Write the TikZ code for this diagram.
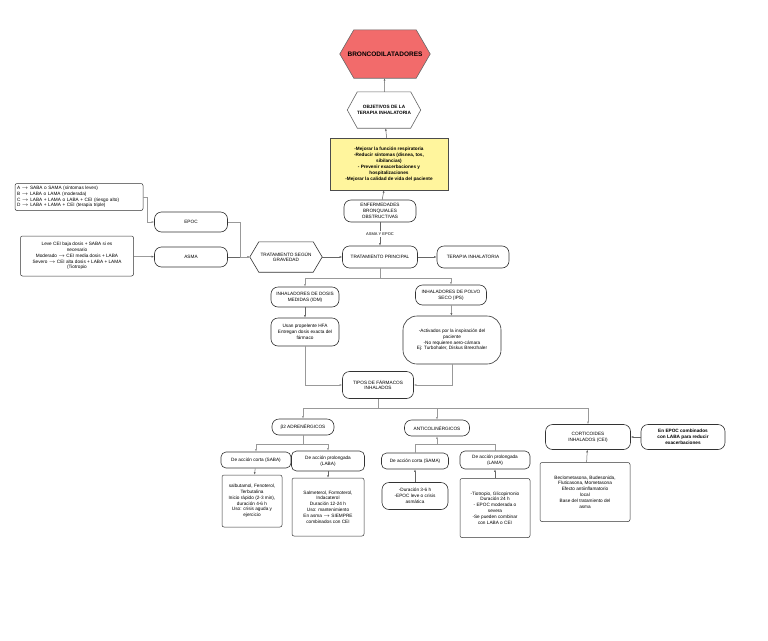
\documentclass[tikz,border=0pt]{standalone}
\usepackage{fontspec}
\setmainfont{Liberation Sans}
\usetikzlibrary{shapes.geometric,arrows.meta}
\definecolor{redhex}{RGB}{242,107,107}
\definecolor{yelbox}{RGB}{255,245,157}
\begin{document}
\begin{tikzpicture}[x=1pt,y=-1pt,
 every node/.style={font=\fontsize{4.7}{5.8}\selectfont,align=center,inner sep=1.5pt},
 rbox/.style={draw=black!80,rounded corners=7pt,line width=0.6pt,fill=white},
 sbox/.style={draw=black!80,rounded corners=2pt,line width=0.5pt,fill=white},
 arr/.style={-{Latex[length=2.5pt,width=2pt]},draw=black!60,line width=0.5pt},
 ln/.style={draw=black!40,line width=0.5pt},
 hx/.style={draw=black!60,line width=0.6pt}]
\useasboundingbox (0,0) rectangle (768,640);
\fill[white] (0,0) rectangle (768,640);
% hexagons
\node[minimum width=90pt,minimum height=48pt,inner sep=0pt] (bron) at (385,54) {};
\draw[hx,fill=redhex] (bron.west) -- ([xshift=14pt]bron.north west) -- ([xshift=-14pt]bron.north east) -- (bron.east) -- ([xshift=-14pt]bron.south east) -- ([xshift=14pt]bron.south west) -- cycle;
\node[font=\fontsize{6.5}{7}\selectfont\bfseries] at (385,54) {BRONCODILATADORES};
\node[minimum width=73pt,minimum height=36pt,inner sep=0pt] (obj) at (384,110) {};
\draw[hx,fill=white] (obj.west) -- ([xshift=10pt]obj.north west) -- ([xshift=-10pt]obj.north east) -- (obj.east) -- ([xshift=-10pt]obj.south east) -- ([xshift=10pt]obj.south west) -- cycle;
\node[font=\fontsize{4.7}{5.8}\selectfont\bfseries] at (384,110) {OBJETIVOS DE LA\\TERAPIA INHALATORIA};
\node[minimum width=72pt,minimum height=30pt,inner sep=0pt] (tsg) at (286,257) {};
\draw[hx,draw=black!80,fill=white] (tsg.west) -- ([xshift=9pt]tsg.north west) -- ([xshift=-9pt]tsg.north east) -- (tsg.east) -- ([xshift=-9pt]tsg.south east) -- ([xshift=9pt]tsg.south west) -- cycle;
\node at (286,257) {TRATAMIENTO SEGÚN\\GRAVEDAD};
% boxes
\node[draw=black!70,fill=yelbox,minimum width=118pt,minimum height=52pt,font=\fontsize{4.7}{6}\selectfont\bfseries] (yel) at (389,164)
 {-Mejorar la función respiratoria\\-Reducir síntomas (disnea, tos,\\sibilancias)\\- Prevenir exacerbaciones y\\hospitalizaciones\\-Mejorar la calidad de vida del paciente};
\node[rbox,minimum width=72pt,minimum height=22pt] (enf) at (380,211) {ENFERMEDADES\\BRONQUIALES\\OBSTRUCTIVAS};
\node[rbox,minimum width=75pt,minimum height=22pt] (tp) at (380,257) {TRATAMIENTO PRINCIPAL};
\node[rbox,minimum width=72pt,minimum height=22pt] (ti) at (473,257) {TERAPIA INHALATORIA};
\node[rbox,minimum width=73pt,minimum height=20pt] (epoc) at (191,222) {EPOC};
\node[rbox,minimum width=73pt,minimum height=20pt] (asma) at (191,257) {ASMA};
\node[sbox,minimum width=128pt,minimum height=27pt,align=left,text width=124pt] (te) at (79,197)
 {A $\rightarrow$ SABA o SAMA (síntomas leves)\\B $\rightarrow$ LABA o LAMA (moderada)\\C $\rightarrow$ LABA + LAMA o LABA + CEI (riesgo alto)\\D $\rightarrow$ LABA + LAMA + CEI (terapia triple)};
\node[sbox,minimum width=113pt,minimum height=40pt] (ta) at (77,256)
 {Leve CEI baja dosis + SABA si es\\necesario\\Moderado $\rightarrow$ CEI media dosis + LABA\\Severo $\rightarrow$ CEI alta dosis + LABA + LAMA\\(Tiotropio};
\node[rbox,minimum width=68pt,minimum height=20pt] (idm) at (305,297) {INHALADORES DE DOSIS\\MEDIDAS (IDM)};
\node[rbox,minimum width=68pt,minimum height=28pt] (usan) at (305,332) {Usan propelente HFA\\Entregan dosis exacta del\\fármaco};
\node[rbox,minimum width=71pt,minimum height=20pt] (ips) at (451,295) {INHALADORES DE POLVO\\SECO (IPS)};
\node[rbox,rounded corners=14pt,minimum width=98pt,minimum height=48pt] (act) at (452,340) {-Activados por la inspiración del\\paciente\\-No requieren aero-cámara\\Ej: Turbohaler, Diskus Breezhaler};
\node[rbox,minimum width=71pt,minimum height=27pt] (tipos) at (378,385) {TIPOS DE FÁRMACOS\\INHALADOS};
\node[rbox,minimum width=62pt,minimum height=16pt] (b2) at (303,427) {β2 ADRENÉRGICOS};
\node[rbox,minimum width=65pt,minimum height=16pt] (ac) at (437,428) {ANTICOLINÉRGICOS};
\node[rbox,minimum width=85pt,minimum height=25pt] (cei) at (588,437) {CORTICOIDES\\INHALADOS (CEI)};
\node[rbox,minimum width=84pt,minimum height=25pt,font=\fontsize{4.7}{5.8}\selectfont\bfseries] (ec) at (683,437) {En EPOC combinados\\con LABA para reducir\\exacerbaciones};
\node[rbox,rounded corners=5pt,minimum width=70pt,minimum height=16pt] (saba) at (256,460) {De acción corta (SABA)};
\node[rbox,rounded corners=5pt,minimum width=73pt,minimum height=20pt] (laba) at (328,461) {De acción prolongada\\(LABA)};
\node[rbox,rounded corners=5pt,minimum width=67pt,minimum height=16pt] (sama) at (415,461) {De acción corta (SAMA)};
\node[rbox,rounded corners=5pt,minimum width=70pt,minimum height=18pt] (lama) at (495,460) {De acción prolongada\\(LAMA)};
\node[sbox,minimum width=60pt,minimum height=52pt] (salb) at (252,501) {salbutamol, Fenoterol,\\Terbutalina\\Inicio rápido (2-3 min),\\duración 4-6 h\\Uso: crisis aguda y\\ejercicio};
\node[sbox,minimum width=72pt,minimum height=58pt] (salm) at (328,507) {Salmeterol, Formoterol,\\Indacaterol\\Duración 12-24 h\\Uso: mantenimiento\\En asma $\rightarrow$ SIEMPRE\\combinados con CEI};
\node[rbox,minimum width=66pt,minimum height=27pt] (dur) at (415,496) {-Duración 3-6 h\\-EPOC leve o crisis\\asmática};
\node[sbox,minimum width=70pt,minimum height=59pt] (tio) at (495,508) {-Tiotropio, Glicopirronio\\Duración 24 h\\- EPOC moderada o\\severa\\-Se pueden combinar\\con LABA o CEI};
\node[sbox,minimum width=90pt,minimum height=59pt] (bec) at (585,492) {Beclometasona, Budesonida,\\Fluticasona, Mometasona\\Efecto antiinflamatorio\\local\\Base del tratamiento del\\asma};
% connectors
\draw[arr] (obj) -- (bron);
\draw[arr] (yel) -- (obj);
\draw[arr] (enf) -- (yel);
\draw[arr] (enf) -- node[fill=white,font=\fontsize{4}{4.5}\selectfont]{ASMA Y EPOC} (tp);
\draw[arr] (tsg) -- (tp);
\draw[arr] (tp) -- (ti);
\draw[arr] (asma) -- (tsg);
\draw[arr,draw=black!40] (epoc.east) -| (240,257) -- (tsg.west);
\draw[arr,draw=black!40] (te.east) -| (147,222) -- (epoc.west);
\draw[arr] (ta) -- (asma);
\draw[arr,draw=black!40] (tp.south) -- (380,278) -| (idm.north);
\draw[arr,draw=black!40] (380,278) -| (ips.north);
\draw[arr] (idm) -- (usan);
\draw[arr] (ips) -- (act);
\draw[arr,draw=black!40] (usan.south) |- (tipos.west);
\draw[arr,draw=black!40] (act.south) |- (tipos.east);
\draw[ln] (tipos.south) -- (378,408);
\draw[arr,draw=black!40] (305,408) -| (b2.north);
\draw[arr,draw=black!40] (305,408) -- (437,408) -- (ac.north);
\draw[arr,draw=black!40] (437,408) -- (588,408) -- (cei.north);
\draw[ln] (b2.south) -- (303,444);
\draw[arr,draw=black!40] (303,444) -| (saba.north);
\draw[arr,draw=black!40] (303,444) -| (laba.north);
\draw[arr,draw=black!40] (415,444) -| (437,444) -- (ac.south);
\draw[ln] (sama.north) |- (495,444) -- (lama.north);
\draw[arr] (saba) -- (salb);
\draw[arr] (laba) -- (salm);
\draw[arr] (dur) -- (sama);
\draw[arr] (tio) -- (lama);
\draw[arr] (bec) -- (cei);
\draw[arr] (ec) -- (cei);
\end{tikzpicture}
\end{document}
